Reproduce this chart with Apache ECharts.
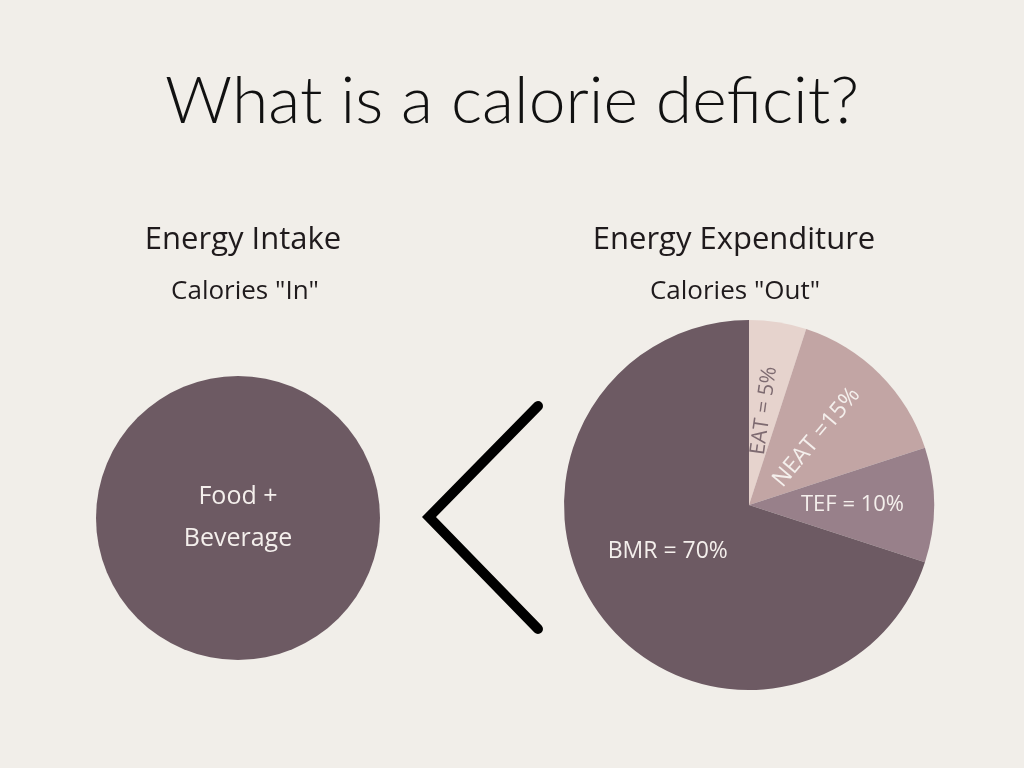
<!DOCTYPE html>
<html><head><meta charset="utf-8">
<script src="https://cdn.jsdelivr.net/npm/echarts@6/dist/echarts.min.js"></script>
<style>html,body{margin:0;background:#f1eee9}#c{width:1024px;height:768px}</style>
</head><body><div id="c"></div>
<script>
// values
const intakeNames = ['Food +\nBeverage'];
const intakeValues = [100];
const outNames = ['EAT = 5%', 'NEAT =15%', 'TEF = 10%', 'BMR = 70%'];
const outValues = [5, 15, 10, 70];
const outColors = ['#e6d3cd', '#c2a5a4', '#98808a', '#6d5a63'];
const outRotate = [82, 50, 0, 0];
const outSizes = [21, 23, 22, 23];

const chart = echarts.init(document.getElementById('c'));
const txt = { fontFamily: 'Open Sans', color: '#1f1a1c', fontWeight: 'normal' };

chart.setOption({
  backgroundColor: '#f1eee9',
  title: [
    { text: 'What is a calorie deficit?', left: 'center', top: 64,
      textStyle: { fontFamily: 'Lato', fontWeight: 300, fontSize: 66, color: '#111' } },
    { text: 'Energy Intake', left: 238, textAlign: 'center', top: 220, textStyle: Object.assign({ fontSize: 31 }, txt) },
    { text: 'Calories "In"', left: 240, textAlign: 'center', top: 274, textStyle: Object.assign({ fontSize: 26 }, txt) },
    { text: 'Energy Expenditure', left: 729, textAlign: 'center', top: 220, textStyle: Object.assign({ fontSize: 31 }, txt) },
    { text: 'Calories "Out"', left: 730, textAlign: 'center', top: 274, textStyle: Object.assign({ fontSize: 26 }, txt) }
  ],
  series: [
    {
      type: 'pie', center: [238, 518], radius: 142, silent: true,
      itemStyle: { color: '#6d5a63' },
      label: { position: 'center', color: '#f4efec', fontFamily: 'Open Sans', fontSize: 25, lineHeight: 42 },
      data: intakeNames.map((n, i) => ({ name: n, value: intakeValues[i] }))
    },
    {
      type: 'pie', center: [749, 505], radius: 185, startAngle: 90, clockwise: true, silent: true,
      label: { position: 'inside', fontFamily: 'Open Sans', color: '#f4efec', formatter: '{b}' },
      data: outNames.map((n, i) => ({
        name: n, value: outValues[i],
        itemStyle: { color: outColors[i] },
        label: { rotate: outRotate[i], color: i === 0 ? '#7d6a70' : '#f4efec', fontSize: outSizes[i],
                 offset: i === 2 ? [8, 0] : (i === 3 ? [-4, -10] : [0, 0]) }
      }))
    }
  ],
  graphic: [{
    type: 'polyline',
    shape: { points: [[538, 406], [429, 517], [538, 629]] },
    style: { stroke: '#000', lineWidth: 10, fill: null, lineCap: 'round', lineJoin: 'miter' }
  }]
});
</script></body></html>
